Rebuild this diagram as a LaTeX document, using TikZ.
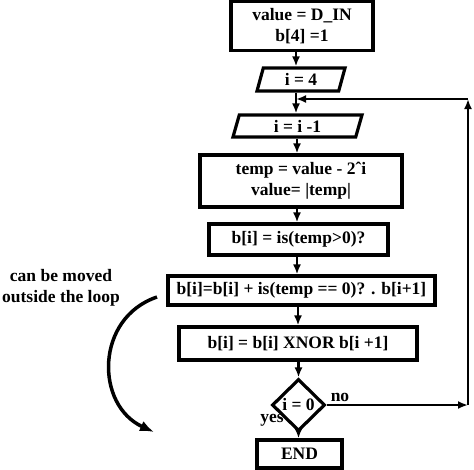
\documentclass[tikz,border=0pt]{standalone}
\usepackage{fontspec}
\setmainfont{Liberation Serif}
\usepackage{tikz}
\usetikzlibrary{arrows.meta}
\usetikzlibrary{shapes.geometric}
\tikzset{>={Latex[length=10pt,width=8pt]}}
\tikzset{
  stepbox/.style={draw, line width=3.2pt, inner sep=1pt, align=center},
  iobox/.style={draw, line width=3.2pt, trapezium, trapezium left angle=66, trapezium right angle=114, trapezium stretches body, inner sep=1pt},
  testbox/.style={draw, line width=3.2pt, diamond, inner sep=-4pt, minimum width=53pt, minimum height=52pt},
  flow/.style={->, line width=2.5pt},
}

\begin{document}
\begin{tikzpicture}[x=1pt, y=-1pt, font=\fontsize{17.5}{21}\selectfont\bfseries]
                \useasboundingbox (0,0) rectangle (474,469);
                \node[stepbox, minimum width=142pt, minimum height=49pt] (init) at (302, 26) {value = D\_IN\\b[4] =1};
                \node[iobox, minimum width=88pt, minimum height=23pt] (start) at (301, 79.5) {i = 4};
                \node[iobox, minimum width=129pt, minimum height=22pt] (dec) at (297.5, 126) {i = i -1};
                \node[stepbox, minimum width=202pt, minimum height=52pt] (temp) at (301, 181) {temp = value - 2ˆi\\value= |temp|};
                \node[stepbox, minimum width=179pt, minimum height=31pt] (sign) at (298.5, 239.5) {b[i] = is(temp>0)?};
                \node[stepbox, minimum width=267pt, minimum height=29pt] (zero) at (301.5, 290.5) {b[i]=b[i] + is(temp == 0)? . b[i+1]};
                \node[stepbox, minimum width=238pt, minimum height=33pt] (xnor) at (298, 343.5) {b[i] = b[i] XNOR b[i +1]};
                \node[testbox] (test) at (298.5, 405) {i = 0};
                \node[stepbox, minimum width=85pt, minimum height=28pt] (stop) at (299.5, 454) {END};
                \node[align=center] (note) at (61, 287.5) {can be moved\\outside the loop};
                \node (no) at (340, 397) {no};
                \node (yes) at (272, 420) {yes};
                % main flow
                \draw[flow] (init.south -| 296,0) -- (start.north -| 296,0);
                \draw[flow] (start.south -| 296,0) -- (dec.north -| 296,0);
                \draw[flow] (dec.south -| 297,0) -- (temp.north -| 297,0);
                \draw[flow] (temp.south -| 297,0) -- (sign.north -| 297,0);
                \draw[flow] (sign.south -| 297,0) -- (zero.north -| 297,0);
                \draw[flow] (zero.south -| 298,0) -- (xnor.north -| 298,0);
                \draw[flow] (xnor.south -| 298.5,0) -- (test.north);
                \draw[flow] (test.south) -- (stop.north -| test.south);
                % back to the top of the loop
                \coordinate (loopin) at (296, 99);
                \coordinate (corner) at (test.east -| 468,0);
                \draw[flow] (test.east) -- (corner);
                \draw[flow] (corner) -- (corner |- loopin);
                \draw[flow] (corner |- loopin) -- (loopin);
                % hint
                \coordinate (hintfrom) at (157, 297);
                \coordinate (hintto) at (154, 432);
                \draw[-{Latex[length=14pt,width=11pt]}, line width=3.5pt] (hintfrom) .. controls (95, 318) and (95, 405) .. (hintto);
            \end{tikzpicture}
\end{document}
